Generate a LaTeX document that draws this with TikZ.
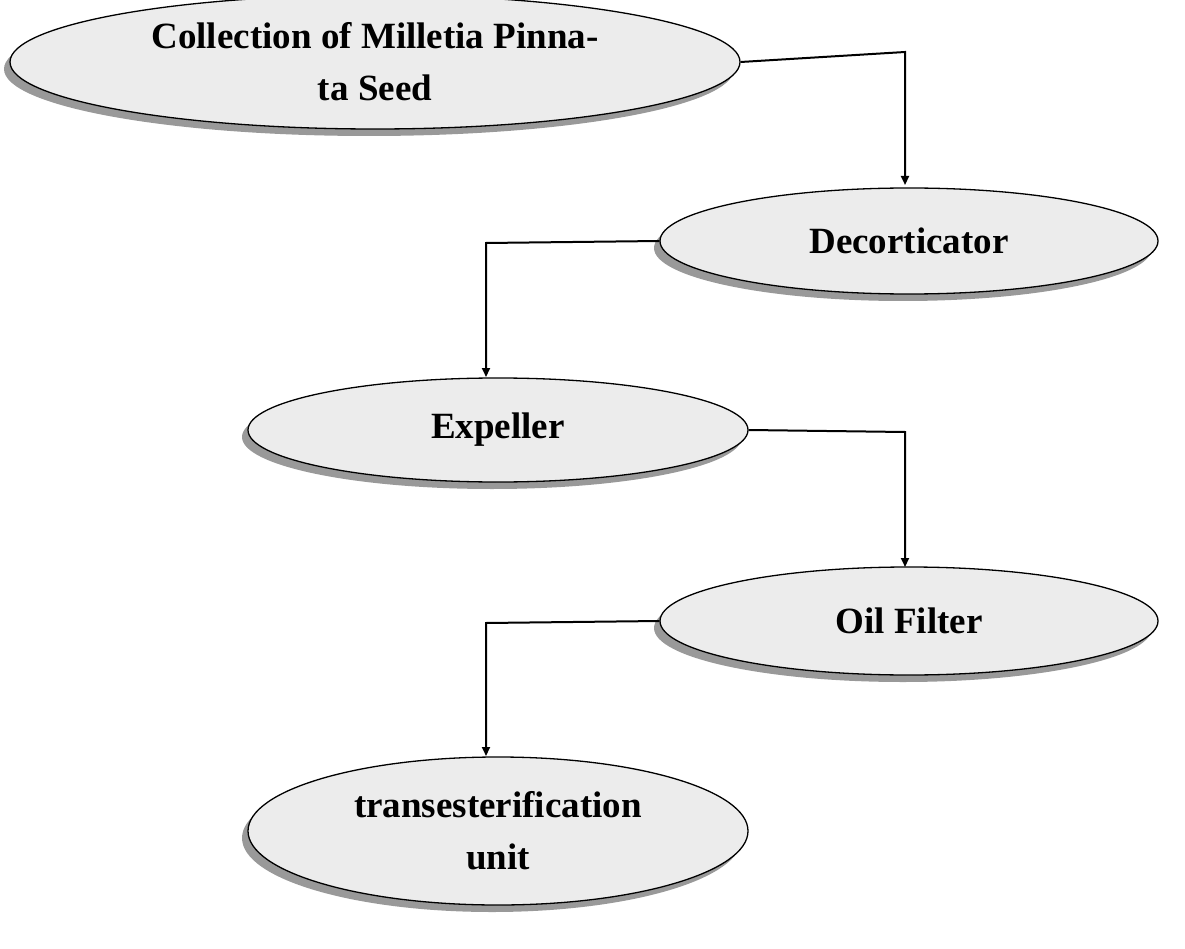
\documentclass[tikz,border=0pt]{standalone}
\usepackage{fontspec}
\setmainfont{Liberation Serif}
\usetikzlibrary{shapes.geometric,shadows,arrows.meta}
\begin{document}
\begin{tikzpicture}[x=1pt,y=-1pt,
  oval/.style={ellipse,draw=black,line width=1.3pt,fill=gray!15,inner sep=0pt,align=center,
    font=\fontsize{37}{52}\selectfont\bfseries,
    drop shadow={shadow xshift=-6pt,shadow yshift=-7pt,fill=gray!80,opacity=1}},
  conn/.style={line width=2pt,-{Triangle[length=9pt,width=8pt]}}]
\useasboundingbox (0,0) rectangle (1185,949);
\node[oval,minimum width=730pt,minimum height=134pt] (a) at (375,62) {Collection of Milletia Pinna-\\ta Seed};
\node[oval,minimum width=498pt,minimum height=106pt] (b) at (909,241) {Decorticator};
\node[oval,minimum width=500pt,minimum height=104pt] (c) at (498,430) {Expeller};
\node[oval,minimum width=498pt,minimum height=108pt] (d) at (909,621) {Oil Filter};
\node[oval,minimum width=500pt,minimum height=148pt] (e) at (498,831) {transesterification\\unit};
\draw[conn] (a.east) -- (905,52) -- (905,185);
\draw[conn] (b.west) -- (486,243) -- (486,377);
\draw[conn] (c.east) -- (905,432) -- (905,567);
\draw[conn] (d.west) -- (486,623) -- (486,756);
\end{tikzpicture}
\end{document}
